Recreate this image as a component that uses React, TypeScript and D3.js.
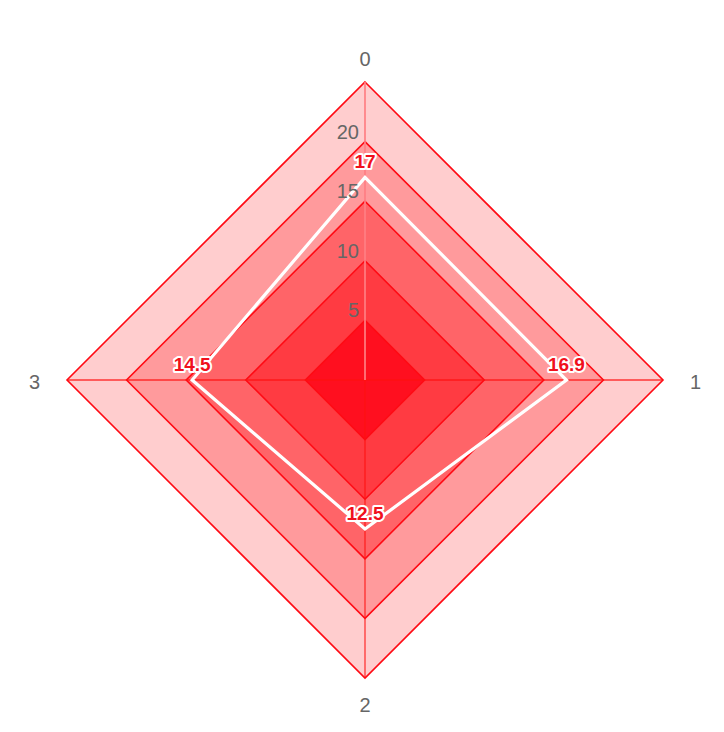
import React from 'react';
import * as d3 from 'd3';

const indicators = ['0', '1', '2', '3'];
const values = [17, 16.9, 12.5, 14.5];
const ringLevels = [5, 10, 15, 20, 25];
const ringColors = ['#ff0f1f', '#ff3b42', '#ff6468', '#ff9a9c', '#ffcdce'];
const tickLabels = [5, 10, 15, 20];

const width = 724;
const height = 732;
const cx = 365;
const cy = 380;
const outer = 298;
const font = '"Liberation Sans", Arial, sans-serif';

export default function App() {
  const r = d3.scaleLinear().domain([0, 25]).range([0, outer]);
  const angle = d3.scalePoint<string>()
    .domain(indicators)
    .range([0, (2 * Math.PI * (indicators.length - 1)) / indicators.length]);

  const radial = d3.lineRadial<number>()
    .angle((_, i) => angle(indicators[i]) as number)
    .radius(d => r(d))
    .curve(d3.curveLinearClosed);

  const ringPath = (level: number) => radial(indicators.map(() => level)) as string;
  const dataPath = radial(values) as string;

  const point = (i: number, v: number) => {
    const a = angle(indicators[i]) as number;
    return [Math.sin(a) * r(v), -Math.cos(a) * r(v)];
  };

  // outermost first so inner areas sit on top
  const rings = ringLevels.map((lv, i) => ({ lv, color: ringColors[i] })).reverse();

  return (
    <svg width={width} height={height} style={{ position: 'absolute', left: 0, top: 0 }}>
      <rect width={width} height={height} fill="#fff" />
      <g transform={`translate(${cx},${cy})`}>
        {rings.map(d => (
          <path key={d.lv} d={ringPath(d.lv)} fill={d.color} stroke="#ff0a14" strokeWidth={1.6} />
        ))}
        {indicators.map((name, i) => {
          const [x, y] = point(i, 25);
          return <line key={name} x1={0} y1={0} x2={x} y2={y} stroke="#ff1010" strokeOpacity={0.8} strokeWidth={1.3} />;
        })}
        {/* radius axis line on the first indicator */}
        <line x1={0} y1={0} x2={0} y2={-r(25)} stroke="#ff9aa0" strokeOpacity={0.9} strokeWidth={1.5} />
        <path d={dataPath} fill="none" stroke="#fff" strokeWidth={3.2} strokeLinejoin="miter" />
        {tickLabels.map(t => (
          <text key={t} x={-6} y={-r(t) - 3} textAnchor="end" fontFamily={font} fontSize={20} fill="#666">
            {t}
          </text>
        ))}
        {values.map((v, i) => {
          const [x, y] = point(i, v);
          return (
            <text
              key={i}
              x={x}
              y={y - 9}
              textAnchor="middle"
              fontFamily={font}
              fontSize={19}
              fontWeight="bold"
              fill="#f0101c"
              stroke="#fff"
              strokeWidth={4}
              paintOrder="stroke"
              strokeLinejoin="round"
            >
              {v}
            </text>
          );
        })}
        {indicators.map((name, i) => {
          const a = angle(name) as number;
          const dx = Math.sin(a);
          const dy = -Math.cos(a);
          const gap = Math.abs(dx) < 0.01 ? 25 : 27;
          const x = dx * (outer + gap);
          const y = dy * (outer + gap) + 2;
          const anchor = Math.abs(dx) < 0.01 ? 'middle' : dx > 0 ? 'start' : 'end';
          return (
            <text
              key={name}
              x={x}
              y={y}
              textAnchor={anchor}
              dominantBaseline="central"
              fontFamily={font}
              fontSize={20}
              fill="#666"
            >
              {name}
            </text>
          );
        })}
      </g>
    </svg>
  );
}
